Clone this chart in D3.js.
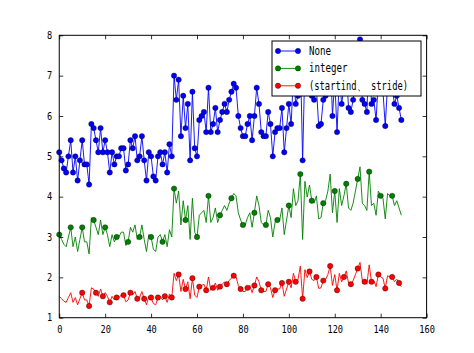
<html>
  <head>
    <script src="https://d3js.org/d3.v7.min.js"></script>
    <style>
      body { margin: 0; background: #fff; }
      .tick text, .legend text { font-family: "DejaVu Sans Mono", "Liberation Mono", monospace; fill: #000; }
    </style>
  </head>
  <body>
    <svg id="chart" width="474" height="353"></svg>
    <script>
      // every series has 150 points, x = 0 .. 149
      const seriesNone = [
        5.1, 4.9, 4.7, 4.6, 5.0, 5.4, 4.6, 5.0, 4.4, 4.9,
        5.4, 4.8, 4.8, 4.3, 5.8, 5.7, 5.4, 5.1, 5.7, 5.1,
        5.4, 5.1, 4.6, 5.1, 4.8, 5.0, 5.0, 5.2, 5.2, 4.65,
        4.8, 5.4, 5.2, 5.5, 4.9, 5.0, 5.5, 4.9, 4.4, 5.1,
        5.0, 4.5, 4.4, 5.0, 5.1, 4.8, 5.1, 4.6, 5.3, 5.0,
        7.0, 6.4, 6.9, 5.5, 6.5, 5.7, 6.3, 4.9, 6.6, 5.2,
        5.0, 5.9, 6.0, 6.1, 5.6, 6.7, 5.6, 5.8, 6.2, 5.6,
        5.9, 6.1, 6.3, 6.1, 6.4, 6.6, 6.8, 6.7, 6.0, 5.7,
        5.5, 5.5, 5.8, 6.0, 5.4, 6.0, 6.7, 6.3, 5.6, 5.5,
        5.5, 6.1, 5.8, 5.0, 5.6, 5.7, 5.7, 6.2, 5.1, 5.7,
        6.3, 5.8, 7.0, 6.3, 6.5, 7.6, 4.9, 7.3, 6.65, 7.15,
        6.5, 6.4, 6.7, 5.75, 5.8, 6.4, 6.5, 6.9, 7.6, 6.0,
        6.9, 5.6, 7.0, 6.3, 6.7, 7.2, 6.2, 6.1, 6.4, 6.9,
        7.4, 7.9, 6.4, 6.3, 6.1, 7.7, 6.3, 6.4, 5.9, 6.9,
        6.7, 6.6, 5.75, 6.8, 6.7, 6.7, 6.3, 6.5, 6.2, 5.9
      ];
      const seriesInteger = [
        3.06, 2.94, 2.82, 2.76, 3.0, 3.24, 2.76, 3.0, 2.64, 2.94,
        3.24, 2.88, 2.88, 2.58, 3.48, 3.42, 3.24, 3.06, 3.42, 3.06,
        3.24, 3.06, 2.76, 3.06, 2.88, 3.0, 3.0, 3.12, 3.12, 2.79,
        2.88, 3.24, 3.12, 3.3, 2.94, 3.0, 3.3, 2.94, 2.64, 3.06,
        3.0, 2.7, 2.64, 3.0, 3.06, 2.88, 3.06, 2.76, 3.18, 3.0,
        4.2, 3.84, 4.14, 3.3, 3.9, 3.42, 3.78, 2.94, 3.96, 3.12,
        3.0, 3.54, 3.6, 3.66, 3.36, 4.02, 3.36, 3.48, 3.72, 3.36,
        3.54, 3.66, 3.78, 3.66, 3.84, 3.96, 4.08, 4.02, 3.6, 3.42,
        3.3, 3.3, 3.48, 3.6, 3.24, 3.6, 4.02, 3.78, 3.36, 3.3,
        3.3, 3.66, 3.48, 3.0, 3.36, 3.42, 3.42, 3.72, 3.06, 3.42,
        3.78, 3.48, 4.2, 3.78, 3.9, 4.56, 2.94, 4.38, 3.99, 4.29,
        3.9, 3.84, 4.02, 3.45, 3.48, 3.84, 3.9, 4.14, 4.56, 3.6,
        4.14, 3.36, 4.2, 3.78, 4.02, 4.32, 3.72, 3.66, 3.84, 4.14,
        4.44, 4.74, 3.84, 3.78, 3.66, 4.62, 3.78, 3.84, 3.54, 4.14,
        4.02, 3.96, 3.45, 4.08, 4.02, 4.02, 3.78, 3.9, 3.72, 3.54
      ];
      const seriesStride = [
        1.53, 1.47, 1.41, 1.38, 1.5, 1.62, 1.38, 1.5, 1.32, 1.47,
        1.62, 1.44, 1.44, 1.29, 1.74, 1.71, 1.62, 1.53, 1.71, 1.53,
        1.62, 1.53, 1.38, 1.53, 1.44, 1.5, 1.5, 1.56, 1.56, 1.395,
        1.44, 1.62, 1.56, 1.65, 1.47, 1.5, 1.65, 1.47, 1.32, 1.53,
        1.5, 1.35, 1.32, 1.5, 1.53, 1.44, 1.53, 1.38, 1.59, 1.5,
        2.1, 1.92, 2.07, 1.65, 1.95, 1.71, 1.89, 1.47, 1.98, 1.56,
        1.5, 1.77, 1.8, 1.83, 1.68, 2.01, 1.68, 1.74, 1.86, 1.68,
        1.77, 1.83, 1.89, 1.83, 1.92, 1.98, 2.04, 2.01, 1.8, 1.71,
        1.65, 1.65, 1.74, 1.8, 1.62, 1.8, 2.01, 1.89, 1.68, 1.65,
        1.65, 1.83, 1.74, 1.5, 1.68, 1.71, 1.71, 1.86, 1.53, 1.71,
        1.89, 1.74, 2.1, 1.89, 1.95, 2.28, 1.47, 2.19, 1.995, 2.145,
        1.95, 1.92, 2.01, 1.725, 1.74, 1.92, 1.95, 2.07, 2.28, 1.8,
        2.07, 1.68, 2.1, 1.89, 2.01, 2.16, 1.86, 1.83, 1.92, 2.07,
        2.22, 2.37, 1.92, 1.89, 1.83, 2.31, 1.89, 1.92, 1.77, 2.07,
        2.01, 1.98, 1.725, 2.04, 2.01, 2.01, 1.89, 1.95, 1.86, 1.77
      ];
      const labels = ["None", "integer", "(startind\u3001 stride)"];
      const colors = ["#0000ff", "#008000", "#ff0000"];
      const xTicks = [0, 20, 40, 60, 80, 100, 120, 140, 160];
      const yTicks = [1, 2, 3, 4, 5, 6, 7, 8];

      // which points get a marker: all / every 5th / start 10 stride 3
      const markNone = (i) => true;
      const markInteger = (i) => i % 5 === 0;
      const markStride = (i) => i >= 10 && (i - 10) % 3 === 0;

      const svg = d3.select("#chart");
      const plotLeft = 59.25, plotRight = 426.6, plotTop = 35.3, plotBottom = 317.7;

      const x = d3.scaleLinear().domain([0, 160]).range([plotLeft, plotRight]);
      const y = d3.scaleLinear().domain([1, 8]).range([plotBottom, plotTop]);

      svg.append("rect").attr("width", 474).attr("height", 353).attr("fill", "#fff");

      const series = [
        { values: seriesNone, mark: markNone },
        { values: seriesInteger, mark: markInteger },
        { values: seriesStride, mark: markStride }
      ];

      const line = d3.line().x((d, i) => x(i)).y((d) => y(d));
      const plot = svg.append("g");

      series.forEach((s, k) => {
        plot.append("path")
          .datum(s.values)
          .attr("fill", "none")
          .attr("stroke", colors[k])
          .attr("stroke-width", 0.9)
          .attr("d", line);

        const pts = s.values.map((v, i) => ({ i: i, v: v })).filter((d) => s.mark(d.i));
        plot.selectAll("circle.s" + k)
          .data(pts)
          .join("circle")
          .attr("class", "s" + k)
          .attr("cx", (d) => x(d.i))
          .attr("cy", (d) => y(d.v))
          .attr("r", 2.7)
          .attr("fill", colors[k])
          .attr("stroke", "#000")
          .attr("stroke-width", 0.35);
      });

      // axes with inward ticks on all four sides (classic style)
      const fmtText = (sel) =>
        sel.selectAll("text")
          .attr("font-size", 10)
          .attr("textLength", function () { return this.textContent.length * 5.2; })
          .attr("lengthAdjust", "spacingAndGlyphs");

      svg.append("g")
        .attr("transform", "translate(0," + plotBottom + ")")
        .call(d3.axisBottom(x).tickValues(xTicks).tickFormat(d3.format("d"))
          .tickSizeInner(-4).tickSizeOuter(0).tickPadding(8))
        .call((g) => g.select(".domain").remove())
        .call(fmtText);

      svg.append("g")
        .attr("transform", "translate(" + plotLeft + ",0)")
        .call(d3.axisLeft(y).tickValues(yTicks).tickFormat(d3.format("d"))
          .tickSizeInner(-4).tickSizeOuter(0).tickPadding(7))
        .call((g) => g.select(".domain").remove())
        .call(fmtText);

      svg.append("g")
        .attr("transform", "translate(0," + plotTop + ")")
        .call(d3.axisTop(x).tickValues(xTicks).tickSizeInner(-4).tickSizeOuter(0).tickFormat(""))
        .call((g) => g.select(".domain").remove());

      svg.append("g")
        .attr("transform", "translate(" + plotRight + ",0)")
        .call(d3.axisRight(y).tickValues(yTicks).tickSizeInner(-4).tickSizeOuter(0).tickFormat(""))
        .call((g) => g.select(".domain").remove());

      svg.selectAll(".tick line").attr("stroke", "#000").attr("stroke-width", 0.8);

      svg.append("rect")
        .attr("x", plotLeft).attr("y", plotTop)
        .attr("width", plotRight - plotLeft).attr("height", plotBottom - plotTop)
        .attr("fill", "none").attr("stroke", "#000").attr("stroke-width", 1);

      // legend
      const legend = svg.append("g").attr("class", "legend");
      legend.append("rect")
        .attr("x", 272).attr("y", 41).attr("width", 149).attr("height", 55)
        .attr("fill", "#fff").attr("stroke", "#000").attr("stroke-width", 1);

      labels.forEach((lab, k) => {
        const ly = 51 + k * 17.4;
        legend.append("line")
          .attr("x1", 278).attr("x2", 298).attr("y1", ly).attr("y2", ly)
          .attr("stroke", colors[k]).attr("stroke-width", 0.9);
        [278, 298].forEach((cx) => {
          legend.append("circle")
            .attr("cx", cx).attr("cy", ly).attr("r", 2.7)
            .attr("fill", colors[k]).attr("stroke", "#000").attr("stroke-width", 0.35);
        });
        legend.append("text")
          .attr("x", 309).attr("y", ly + 4)
          .attr("font-size", 11.5)
          .attr("textLength", lab.length * 5.5)
          .attr("lengthAdjust", "spacingAndGlyphs")
          .text(lab);
      });
    </script>
  </body>
</html>
